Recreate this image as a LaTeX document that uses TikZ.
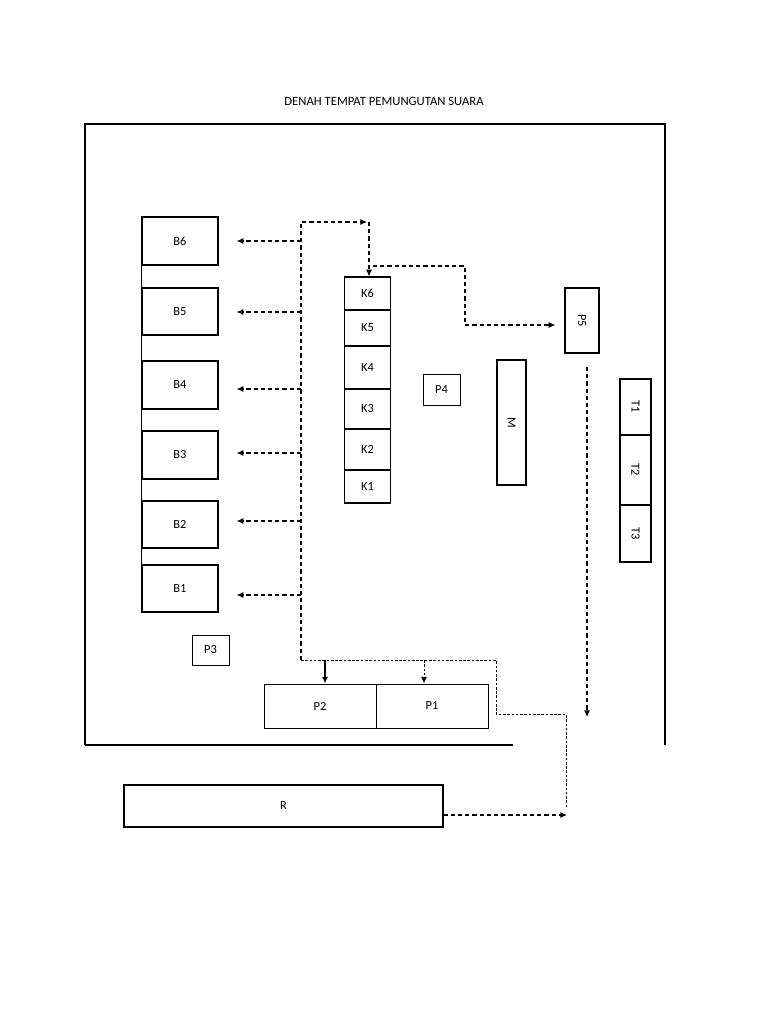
\documentclass[tikz,border=0pt]{standalone}
\usepackage{fontspec}
\setmainfont{Carlito}
\usetikzlibrary{arrows.meta,calc}
\begin{document}
\begin{tikzpicture}[x=0.75pt,y=-0.75pt,
  box/.style={draw,line width=0.9pt,inner sep=0pt,font=\fontsize{9.3}{10}\selectfont},
  wall/.style={line width=1.3pt},
  dsh/.style={line width=0.8pt,dash pattern=on 3.2pt off 2.2pt},
  dfine/.style={line width=0.6pt,dash pattern=on 2pt off 1.2pt},
  tip/.style={-{Latex[length=5pt,width=4.5pt]}}]
\useasboundingbox (0,0) rectangle (768,1024);
\node[font=\fontsize{9.5}{10}\selectfont] (title) at (384,101) {DENAH TEMPAT PEMUNGUTAN SUARA};
% walls
\draw[wall] (85,745) -- (85,124) -- (665,124) -- (665,745);
\draw[wall] (85,745) -- (513,745);
% B boxes
\node[box,minimum width=57pt,minimum height=36pt] (b6) at (180,241) {B6};
\node[box,minimum width=57pt,minimum height=35.25pt] (b5) at (180,311.5) {B5};
\node[box,minimum width=57pt,minimum height=36pt] (b4) at (180,385) {B4};
\node[box,minimum width=57pt,minimum height=36pt] (b3) at (180,455) {B3};
\node[box,minimum width=57pt,minimum height=35.25pt] (b2) at (180,524.5) {B2};
\node[box,minimum width=57pt,minimum height=35.25pt] (b1) at (180,588.5) {B1};
\draw[line width=1.3pt] (b6.north west) -- (b1.south west);
% K boxes
\node[box,minimum width=34.5pt,minimum height=24.75pt] (k6) at (367.5,293.5) {K6};
\node[box,minimum width=34.5pt,minimum height=27pt] (k5) at (367.5,328) {K5};
\node[box,minimum width=34.5pt,minimum height=32.25pt] (k4) at (367.5,367.5) {K4};
\node[box,minimum width=34.5pt,minimum height=30pt] (k3) at (367.5,409) {K3};
\node[box,minimum width=34.5pt,minimum height=30.75pt] (k2) at (367.5,449.5) {K2};
\node[box,minimum width=34.5pt,minimum height=24.75pt] (k1) at (367.5,486.5) {K1};
% others
\node[box,line width=0.6pt,minimum width=27.75pt,minimum height=23.25pt] (p4) at (441.5,389.5) {P4};
\node[box,minimum width=21.75pt,minimum height=93.75pt] (m) at (511.5,422.5) {\rotatebox{-90}{M}};
\node[box,minimum width=25.5pt,minimum height=48.75pt] (p5) at (582,320.5) {\rotatebox{-90}{P5}};
\node[box,minimum width=23.25pt,minimum height=42pt] (t1) at (635.5,407) {\rotatebox{-90}{T1}};
\node[box,minimum width=23.25pt,minimum height=52.5pt] (t2) at (635.5,470) {\rotatebox{-90}{T2}};
\node[box,minimum width=23.25pt,minimum height=42.75pt] (t3) at (635.5,533.5) {\rotatebox{-90}{T3}};
\node[box,line width=0.6pt,minimum width=27.75pt,minimum height=22.5pt] (p3) at (210.5,650) {P3};
\node[box,line width=0.7pt,minimum width=84pt,minimum height=33pt] (p2) at (320,706) {P2};
\node[box,line width=0.7pt,minimum width=84pt,minimum height=33pt] (p1) at (432,706) {P1};
\node[box,minimum width=239.25pt,minimum height=31.5pt] (r) at (283.5,806) {R};
% trunk and branches
\coordinate (tb) at (301,660);
\coordinate (tt) at (301,222);
\draw[dsh,tip] (tb) -- (tt) -- (367,222);
\draw[dsh,tip] (369,222) -- (k6.north -| 369,0);
\draw[dsh,tip] (373,266) -- (465,266) -- (465,325) -- ($(p5.west)+(-9,4.5)$);
\foreach \y/\b in {241/b6,312/b5,389/b4,453/b3,521/b2,595/b1}{
  \draw[dsh,tip] (301,\y) -- ($(\b.east |- 0,\y)+(18,0)$);
}
% bottom route
\draw[dfine] (tb) -- (496,660) -- (496,714) -- (566,714) -- (566,807);
\draw[line width=0.8pt,tip] (325,660) -- (p2.north -| 325,0);
\draw[dfine,tip] (424,660) -- (p1.north -| 424,0);
\draw[dsh,tip] (r.east |- 0,815) -- (567,815);
\draw[dsh,tip] (587,367) -- (587,717);
\end{tikzpicture}
\end{document}
